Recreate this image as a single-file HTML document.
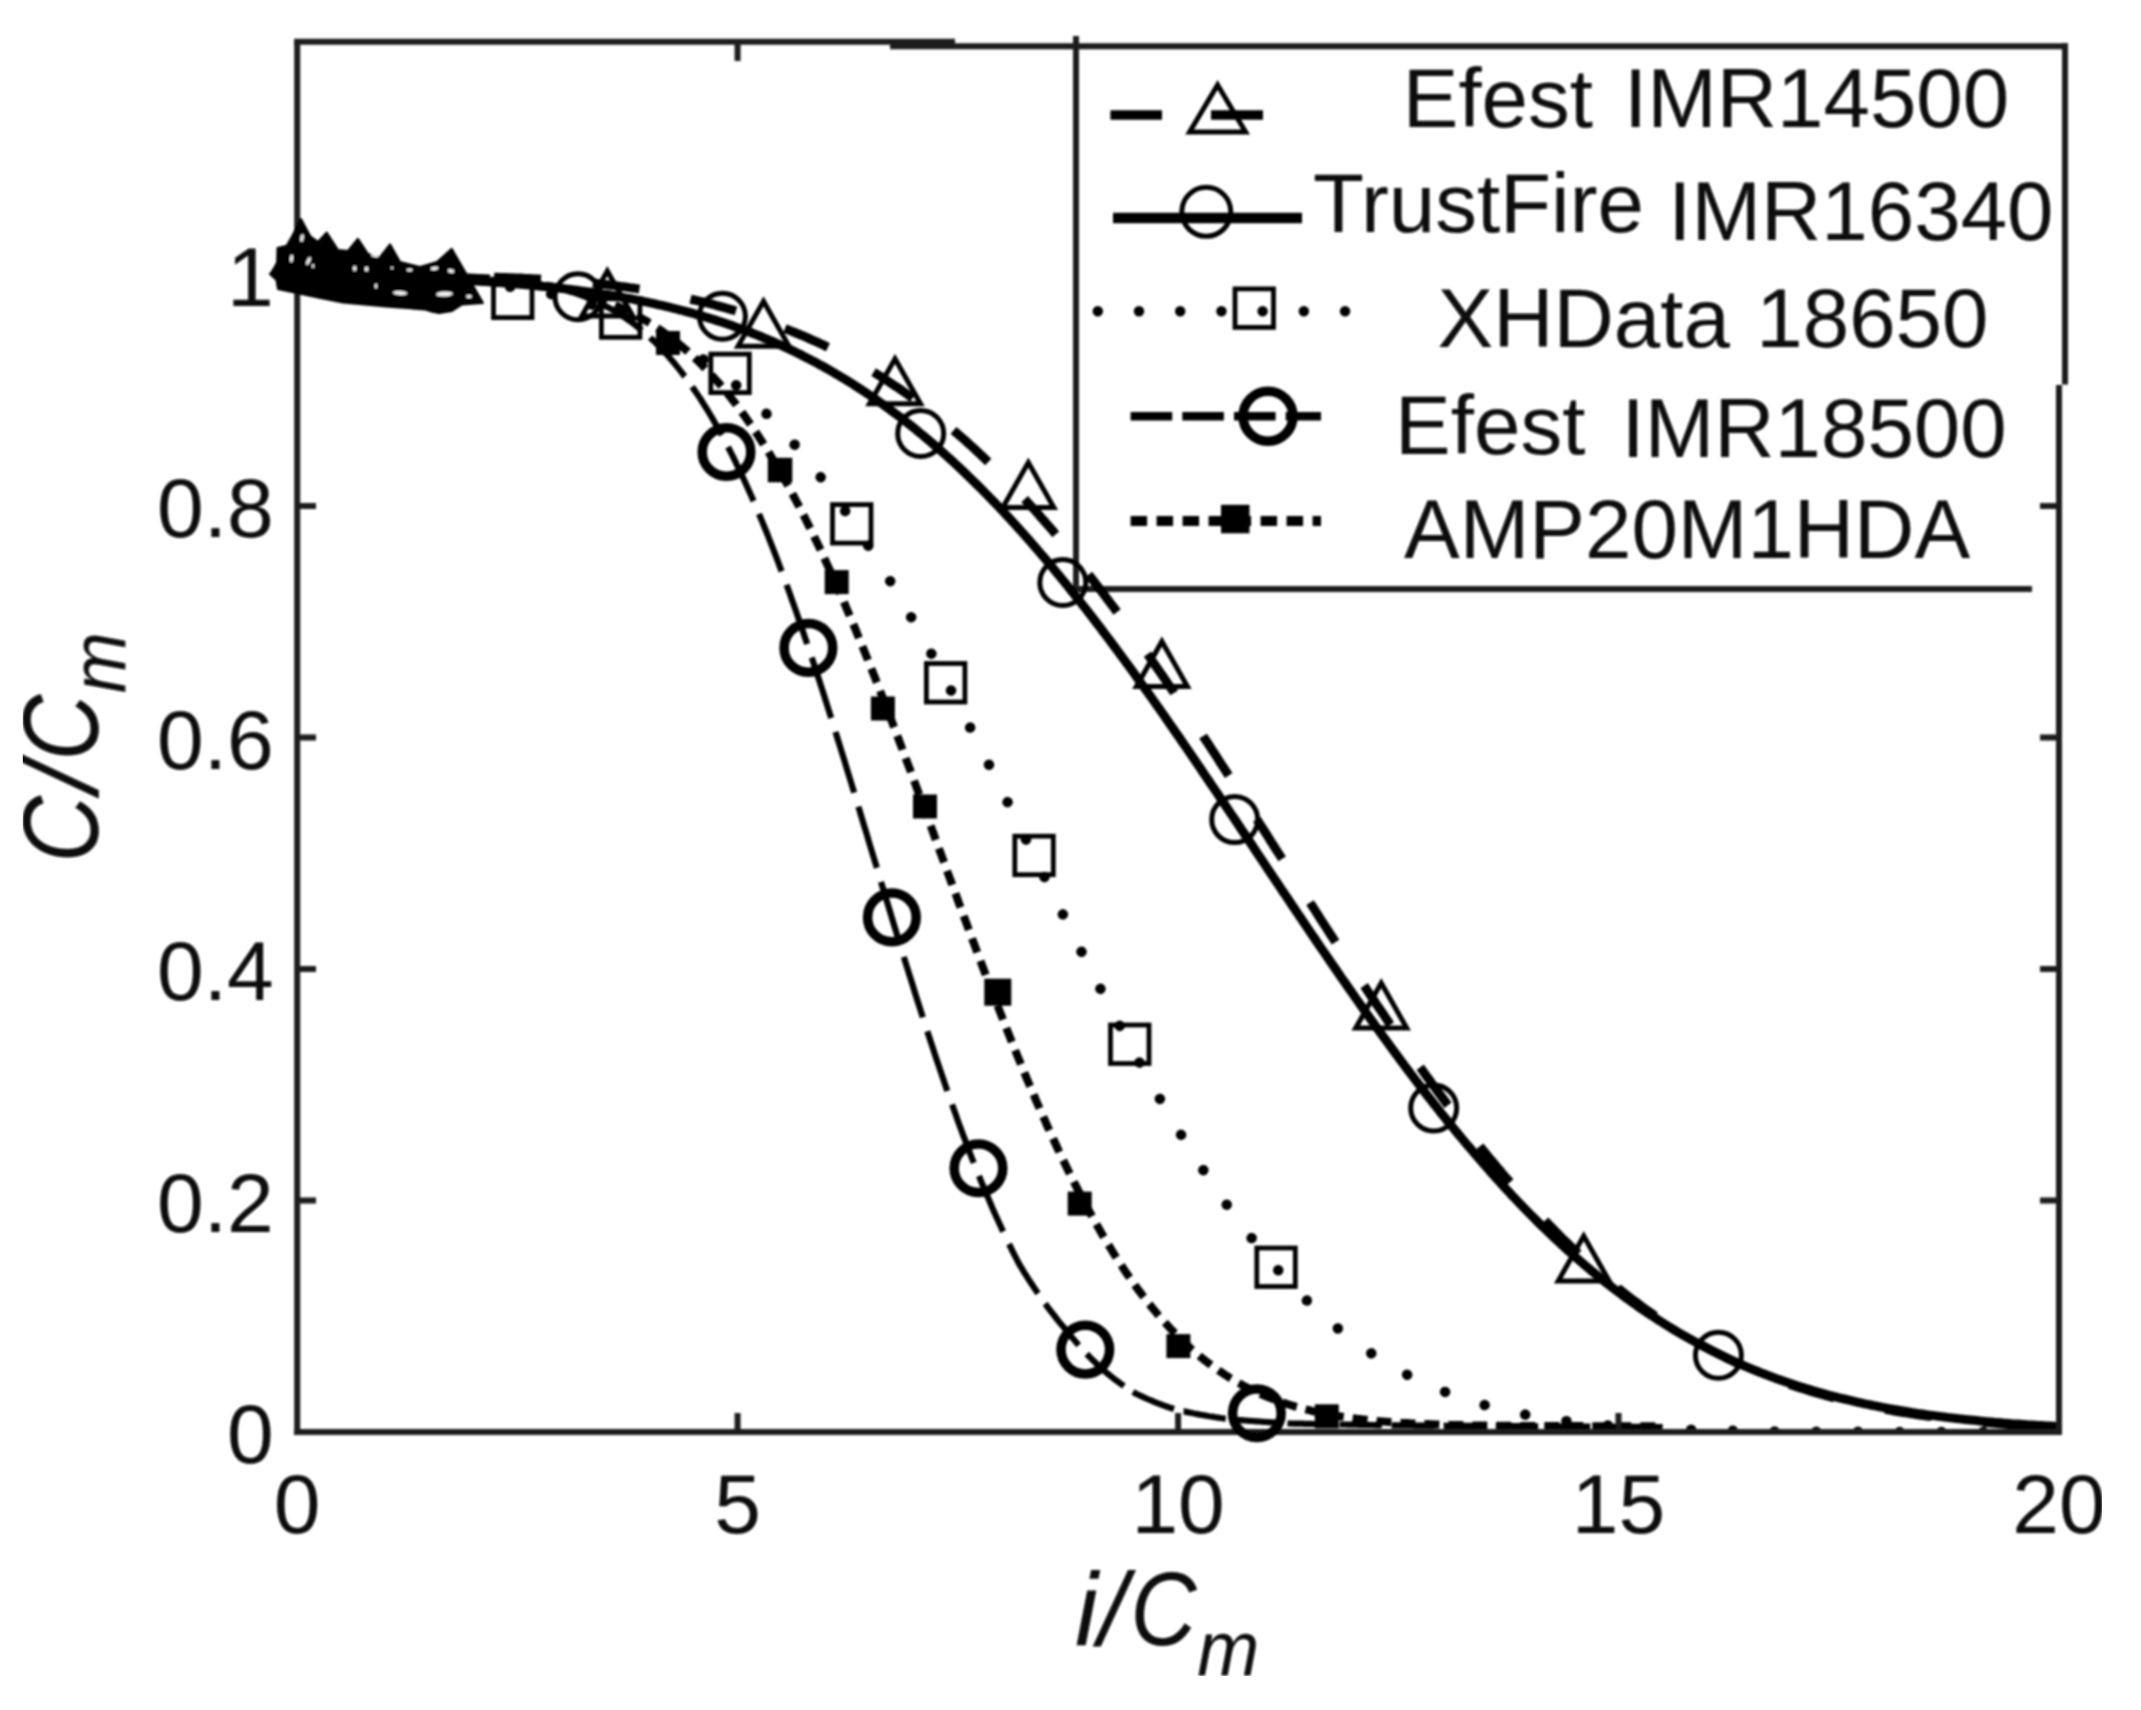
<!DOCTYPE html><html><head><meta charset="utf-8"><title>C/Cm vs i/Cm</title>
<style>html,body{margin:0;padding:0;background:#fff}svg{display:block}text{font-family:"Liberation Sans",Arial,Helvetica,sans-serif;fill:#0a0a0a}</style></head><body>
<svg width="2141" height="1710" viewBox="0 0 2141 1710">
<rect width="2141" height="1710" fill="#fff"/>
<defs><filter id="soft" x="0" y="0" width="2141" height="1710" filterUnits="userSpaceOnUse"><feGaussianBlur stdDeviation="1.1"/></filter></defs>
<g id="plot" filter="url(#soft)">
<g id="legend">
<g stroke="#1c1c1c" fill="none" stroke-width="6">
<path d="M890 46.3 H2068"/>
<path d="M2065 43.3 V384.5"/>
<path d="M1076 36 V592"/>
<path d="M1073 589 H2032"/>
</g>
<path d="M1110.4 115 H1162 M1211 115 H1263" stroke="#000" stroke-width="9.5" fill="none"/>
<path d="M1217.6 85.0 L1245.6 132.0 L1189.6 132.0 Z" fill="none" stroke="#000" stroke-width="5" stroke-linejoin="miter"/>
<path d="M1113 218 H1302" stroke="#000" stroke-width="10.5" fill="none"/>
<circle cx="1206.3" cy="211.8" r="24.5" fill="none" stroke="#000" stroke-width="5"/>
<path d="M1097.8 311.2 H1346" stroke="#000" stroke-width="10.5" stroke-linecap="round" stroke-dasharray="0.01 41.2" fill="none"/>
<rect x="1235.0" y="288.9" width="38.5" height="38.5" fill="none" stroke="#000" stroke-width="4.8"/>
<path d="M1130.6 416.2 H1321" stroke="#000" stroke-width="8.5" stroke-dasharray="41.6 10.1" fill="none"/>
<circle cx="1268.0" cy="416.2" r="25" fill="none" stroke="#000" stroke-width="9.5"/>
<path d="M1130.6 520.9 H1321" stroke="#000" stroke-width="10" stroke-dasharray="16.5 9.5" fill="none"/>
<rect x="1221.0" y="504.8" width="28.5" height="28.5" fill="#000"/>
<text font-size="83.5"><tspan x="1402.7" y="127.2">Efest</tspan> <tspan x="1624.0" y="127.3">IMR14500</tspan></text>
<text font-size="83.5"><tspan x="1313.0" y="231.8">TrustFire</tspan> <tspan x="1668.3" y="239.8">IMR16340</tspan></text>
<text font-size="83.5"><tspan x="1437.5" y="346.9">XHData</tspan> <tspan x="1756.3" y="347.0">18650</tspan></text>
<text font-size="83.5"><tspan x="1395.1" y="454.0">Efest</tspan> <tspan x="1621.5" y="456.9">IMR18500</tspan></text>
<text x="1404.0" y="557.7" font-size="83.5" text-anchor="start" >AMP20M1HDA</text>
</g>
<defs><clipPath id="axclip"><rect x="297.2" y="41.7" width="1761.8" height="1390.3"/></clipPath></defs>
<g id="curves" clip-path="url(#axclip)">
<path d="M297.2 275.6 L300.1 275.6 L303.1 275.6 L306.0 275.7 L309.0 275.7 L311.9 275.8 L314.8 275.8 L317.8 275.8 L320.7 275.9 L323.7 275.9 L326.6 276.0 L329.6 276.0 L332.5 276.1 L335.4 276.1 L338.4 276.2 L341.3 276.2 L344.3 276.3 L347.2 276.3 L350.1 276.4 L353.1 276.4 L356.0 276.5 L359.0 276.6 L361.9 276.6 L364.8 276.7 L367.8 276.8 L370.7 276.8 L373.7 276.9 L376.6 277.0 L379.6 277.1 L382.5 277.1 L385.4 277.2 L388.4 277.3 L391.3 277.4 L394.3 277.5 L397.2 277.6 L400.1 277.6 L403.1 277.7 L406.0 277.8 L409.0 277.9 L411.9 278.0 L414.8 278.1 L417.8 278.2 L420.7 278.4 L423.7 278.5 L426.6 278.6 L429.6 278.7 L432.5 278.8 L435.4 278.9 L438.4 279.1 L441.3 279.2 L444.3 279.3 L447.2 279.5 L450.1 279.6 L453.1 279.8 L456.0 279.9 L459.0 280.1 L461.9 280.2 L464.9 280.4 L467.8 280.5 L470.7 280.7 L473.7 280.9 L476.6 281.1 L479.6 281.2 L482.5 281.4 L485.4 281.6 L488.4 281.8 L491.3 282.0 L494.3 282.2 L497.2 282.4 L500.1 282.6 L503.1 282.8 L506.0 283.1 L509.0 283.3 L511.9 283.5 L514.9 283.8 L517.8 284.0 L520.7 284.3 L523.7 284.5 L526.6 284.8 L529.6 285.1 L532.5 285.3 L535.4 285.6 L538.4 285.9 L541.3 286.2 L544.3 286.5 L547.2 286.8 L550.1 287.1 L553.1 287.4 L556.0 287.8 L559.0 288.1 L561.9 288.4 L564.9 288.8 L567.8 289.1 L570.7 289.5 L573.7 289.9 L576.6 290.3 L579.6 290.7 L582.5 291.1 L585.4 291.5 L588.4 291.9 L591.3 292.3 L594.3 292.7 L597.2 293.2 L600.1 293.6 L603.1 294.1 L606.0 294.5 L609.0 295.0 L611.9 295.5 L614.9 296.0 L617.8 296.5 L620.7 297.0 L623.7 297.6 L626.6 298.1 L629.6 298.6 L632.5 299.2 L635.4 299.8 L638.4 300.4 L641.3 300.9 L644.3 301.6 L647.2 302.2 L650.1 302.8 L653.1 303.4 L656.0 304.1 L659.0 304.8 L661.9 305.4 L664.9 306.1 L667.8 306.8 L670.7 307.5 L673.7 308.3 L676.6 309.0 L679.6 309.8 L682.5 310.5 L685.4 311.3 L688.4 312.1 L691.3 312.9 L694.3 313.7 L697.2 314.6 L700.1 315.4 L703.1 316.3 L706.0 317.2 L709.0 318.1 L711.9 319.0 L714.9 319.9 L717.8 320.9 L720.7 321.8 L723.7 322.8 L726.6 323.8 L729.6 324.8 L732.5 325.8 L735.4 326.9 L738.4 327.9 L741.3 329.0 L744.3 330.1 L747.2 331.2 L750.2 332.3 L753.1 333.5 L756.0 334.6 L759.0 335.8 L761.9 337.0 L764.9 338.3 L767.8 339.5 L770.7 340.8 L773.7 342.0 L776.6 343.3 L779.6 344.6 L782.5 346.0 L785.4 347.3 L788.4 348.7 L791.3 350.1 L794.3 351.5 L797.2 353.0 L800.2 354.4 L803.1 355.9 L806.0 357.4 L809.0 358.9 L811.9 360.4 L814.9 362.0 L817.8 363.6 L820.7 365.2 L823.7 366.8 L826.6 368.5 L829.6 370.1 L832.5 371.8 L835.4 373.6 L838.4 375.3 L841.3 377.1 L844.3 378.8 L847.2 380.6 L850.2 382.5 L853.1 384.3 L856.0 386.2 L859.0 388.1 L861.9 390.0 L864.9 392.0 L867.8 393.9 L870.7 395.9 L873.7 398.0 L876.6 400.0 L879.6 402.1 L882.5 404.2 L885.4 406.3 L888.4 408.4 L891.3 410.6 L894.3 412.8 L897.2 415.0 L900.2 417.2 L903.1 419.5 L906.0 421.8 L909.0 424.1 L911.9 426.4 L914.9 428.8 L917.8 431.2 L920.7 433.6 L923.7 436.0 L926.6 438.5 L929.6 441.0 L932.5 443.5 L935.4 446.0 L938.4 448.6 L941.3 451.2 L944.3 453.8 L947.2 456.5 L950.2 459.1 L953.1 461.8 L956.0 464.5 L959.0 467.3 L961.9 470.1 L964.9 472.9 L967.8 475.7 L970.7 478.5 L973.7 481.4 L976.6 484.3 L979.6 487.2 L982.5 490.2 L985.4 493.1 L988.4 496.1 L991.3 499.2 L994.3 502.2 L997.2 505.3 L1000.2 508.4 L1003.1 511.5 L1006.0 514.7 L1009.0 517.8 L1011.9 521.0 L1014.9 524.2 L1017.8 527.5 L1020.7 530.8 L1023.7 534.0 L1026.6 537.4 L1029.6 540.7 L1032.5 544.1 L1035.5 547.5 L1038.4 550.9 L1041.3 554.3 L1044.3 557.8 L1047.2 561.2 L1050.2 564.7 L1053.1 568.3 L1056.0 571.8 L1059.0 575.4 L1061.9 579.0 L1064.9 582.6 L1067.8 586.2 L1070.7 589.9 L1073.7 593.6 L1076.6 597.3 L1079.6 601.0 L1082.5 604.7 L1085.5 608.5 L1088.4 612.3 L1091.3 616.1 L1094.3 619.9 L1097.2 623.7 L1100.2 627.6 L1103.1 631.5 L1106.0 635.4 L1109.0 639.3 L1111.9 643.2 L1114.9 647.2 L1117.8 651.1 L1120.7 655.1 L1123.7 659.1 L1126.6 663.1 L1129.6 667.2 L1132.5 671.2 L1135.5 675.3 L1138.4 679.4 L1141.3 683.5 L1144.3 687.6 L1147.2 691.7 L1150.2 695.8 L1153.1 700.0 L1156.0 704.2 L1159.0 708.3 L1161.9 712.5 L1164.9 716.7 L1167.8 721.0 L1170.7 725.2 L1173.7 729.4 L1176.6 733.7 L1179.6 737.9 L1182.5 742.2 L1185.5 746.5 L1188.4 750.8 L1191.3 755.1 L1194.3 759.4 L1197.2 763.7 L1200.2 768.0 L1203.1 772.4 L1206.0 776.7 L1209.0 781.1 L1211.9 785.4 L1214.9 789.8 L1217.8 794.1 L1220.7 798.5 L1223.7 802.9 L1226.6 807.3 L1229.6 811.7 L1232.5 816.0 L1235.5 820.4 L1238.4 824.8 L1241.3 829.2 L1244.3 833.6 L1247.2 838.0 L1250.2 842.4 L1253.1 846.8 L1256.0 851.2 L1259.0 855.7 L1261.9 860.1 L1264.9 864.5 L1267.8 868.9 L1270.7 873.3 L1273.7 877.7 L1276.6 882.1 L1279.6 886.5 L1282.5 890.9 L1285.5 895.2 L1288.4 899.6 L1291.3 904.0 L1294.3 908.4 L1297.2 912.8 L1300.2 917.1 L1303.1 921.5 L1306.0 925.8 L1309.0 930.2 L1311.9 934.5 L1314.9 938.9 L1317.8 943.2 L1320.7 947.5 L1323.7 951.8 L1326.6 956.1 L1329.6 960.4 L1332.5 964.7 L1335.5 968.9 L1338.4 973.2 L1341.3 977.5 L1344.3 981.7 L1347.2 985.9 L1350.2 990.1 L1353.1 994.3 L1356.0 998.5 L1359.0 1002.7 L1361.9 1006.9 L1364.9 1011.0 L1367.8 1015.2 L1370.8 1019.3 L1373.7 1023.4 L1376.6 1027.5 L1379.6 1031.6 L1382.5 1035.6 L1385.5 1039.7 L1388.4 1043.7 L1391.3 1047.7 L1394.3 1051.7 L1397.2 1055.7 L1400.2 1059.7 L1403.1 1063.6 L1406.0 1067.6 L1409.0 1071.5 L1411.9 1075.4 L1414.9 1079.3 L1417.8 1083.1 L1420.8 1087.0 L1423.7 1090.8 L1426.6 1094.6 L1429.6 1098.3 L1432.5 1102.1 L1435.5 1105.8 L1438.4 1109.6 L1441.3 1113.3 L1444.3 1116.9 L1447.2 1120.6 L1450.2 1124.2 L1453.1 1127.8 L1456.0 1131.4 L1459.0 1135.0 L1461.9 1138.5 L1464.9 1142.1 L1467.8 1145.6 L1470.8 1149.0 L1473.7 1152.5 L1476.6 1155.9 L1479.6 1159.3 L1482.5 1162.7 L1485.5 1166.1 L1488.4 1169.4 L1491.3 1172.7 L1494.3 1176.0 L1497.2 1179.3 L1500.2 1182.5 L1503.1 1185.8 L1506.0 1189.0 L1509.0 1192.1 L1511.9 1195.3 L1514.9 1198.4 L1517.8 1201.5 L1520.8 1204.6 L1523.7 1207.6 L1526.6 1210.6 L1529.6 1213.6 L1532.5 1216.6 L1535.5 1219.5 L1538.4 1222.5 L1541.3 1225.4 L1544.3 1228.2 L1547.2 1231.1 L1550.2 1233.9 L1553.1 1236.7 L1556.0 1239.5 L1559.0 1242.2 L1561.9 1244.9 L1564.9 1247.6 L1567.8 1250.3 L1570.8 1252.9 L1573.7 1255.5 L1576.6 1258.1 L1579.6 1260.7 L1582.5 1263.2 L1585.5 1265.7 L1588.4 1268.2 L1591.3 1270.7 L1594.3 1273.1 L1597.2 1275.5 L1600.2 1277.9 L1603.1 1280.3 L1606.0 1282.6 L1609.0 1284.9 L1611.9 1287.2 L1614.9 1289.5 L1617.8 1291.7 L1620.8 1293.9 L1623.7 1296.1 L1626.6 1298.3 L1629.6 1300.4 L1632.5 1302.5 L1635.5 1304.6 L1638.4 1306.7 L1641.3 1308.7 L1644.3 1310.7 L1647.2 1312.7 L1650.2 1314.7 L1653.1 1316.6 L1656.1 1318.6 L1659.0 1320.5 L1661.9 1322.3 L1664.9 1324.2 L1667.8 1326.0 L1670.8 1327.8 L1673.7 1329.6 L1676.6 1331.4 L1679.6 1333.1 L1682.5 1334.8 L1685.5 1336.5 L1688.4 1338.2 L1691.3 1339.8 L1694.3 1341.4 L1697.2 1343.1 L1700.2 1344.6 L1703.1 1346.2 L1706.1 1347.7 L1709.0 1349.2 L1711.9 1350.7 L1714.9 1352.2 L1717.8 1353.7 L1720.8 1355.1 L1723.7 1356.5 L1726.6 1357.9 L1729.6 1359.3 L1732.5 1360.6 L1735.5 1362.0 L1738.4 1363.3 L1741.3 1364.6 L1744.3 1365.9 L1747.2 1367.1 L1750.2 1368.4 L1753.1 1369.6 L1756.1 1370.8 L1759.0 1372.0 L1761.9 1373.1 L1764.9 1374.3 L1767.8 1375.4 L1770.8 1376.5 L1773.7 1377.6 L1776.6 1378.7 L1779.6 1379.7 L1782.5 1380.8 L1785.5 1381.8 L1788.4 1382.8 L1791.3 1383.8 L1794.3 1384.8 L1797.2 1385.7 L1800.2 1386.7 L1803.1 1387.6 L1806.1 1388.5 L1809.0 1389.4 L1811.9 1390.3 L1814.9 1391.2 L1817.8 1392.0 L1820.8 1392.8 L1823.7 1393.7 L1826.6 1394.5 L1829.6 1395.3 L1832.5 1396.0 L1835.5 1396.8 L1838.4 1397.6 L1841.3 1398.3 L1844.3 1399.0 L1847.2 1399.7 L1850.2 1400.4 L1853.1 1401.1 L1856.1 1401.8 L1859.0 1402.5 L1861.9 1403.1 L1864.9 1403.8 L1867.8 1404.4 L1870.8 1405.0 L1873.7 1405.6 L1876.6 1406.2 L1879.6 1406.8 L1882.5 1407.3 L1885.5 1407.9 L1888.4 1408.5 L1891.3 1409.0 L1894.3 1409.5 L1897.2 1410.0 L1900.2 1410.5 L1903.1 1411.0 L1906.1 1411.5 L1909.0 1412.0 L1911.9 1412.5 L1914.9 1412.9 L1917.8 1413.4 L1920.8 1413.8 L1923.7 1414.2 L1926.6 1414.7 L1929.6 1415.1 L1932.5 1415.5 L1935.5 1415.9 L1938.4 1416.3 L1941.4 1416.6 L1944.3 1417.0 L1947.2 1417.4 L1950.2 1417.7 L1953.1 1418.1 L1956.1 1418.4 L1959.0 1418.8 L1961.9 1419.1 L1964.9 1419.4 L1967.8 1419.7 L1970.8 1420.0 L1973.7 1420.3 L1976.6 1420.6 L1979.6 1420.9 L1982.5 1421.2 L1985.5 1421.5 L1988.4 1421.7 L1991.4 1422.0 L1994.3 1422.3 L1997.2 1422.5 L2000.2 1422.7 L2003.1 1423.0 L2006.1 1423.2 L2009.0 1423.4 L2011.9 1423.7 L2014.9 1423.9 L2017.8 1424.1 L2020.8 1424.3 L2023.7 1424.5 L2026.6 1424.7 L2029.6 1424.9 L2032.5 1425.1 L2035.5 1425.3 L2038.4 1425.5 L2041.4 1425.6 L2044.3 1425.8 L2047.2 1426.0 L2050.2 1426.1 L2053.1 1426.3 L2056.1 1426.5 L2059.0 1426.6" fill="none" stroke="#000" stroke-width="9"/>
<path d="M297.2 274.8 L300.1 274.8 L303.1 274.8 L306.0 274.8 L309.0 274.8 L311.9 274.8 L314.8 274.8 L317.8 274.9 L320.7 274.9 L323.7 274.9 L326.6 274.9 L329.6 274.9 L332.5 274.9 L335.4 274.9 L338.4 275.0 L341.3 275.0 L344.3 275.0 L347.2 275.0 L350.1 275.0 L353.1 275.0 L356.0 275.1 L359.0 275.1 L361.9 275.1 L364.8 275.1 L367.8 275.2 L370.7 275.2 L373.7 275.2 L376.6 275.2 L379.6 275.3 L382.5 275.3 L385.4 275.3 L388.4 275.3 L391.3 275.4 L394.3 275.4 L397.2 275.4 L400.1 275.5 L403.1 275.5 L406.0 275.5 L409.0 275.6 L411.9 275.6 L414.8 275.6 L417.8 275.7 L420.7 275.7 L423.7 275.8 L426.6 275.8 L429.6 275.8 L432.5 275.9 L435.4 275.9 L438.4 276.0 L441.3 276.0 L444.3 276.1 L447.2 276.1 L450.1 276.2 L453.1 276.2 L456.0 276.3 L459.0 276.4 L461.9 276.4 L464.9 276.5 L467.8 276.6 L470.7 276.6 L473.7 276.7 L476.6 276.8 L479.6 276.8 L482.5 276.9 L485.4 277.0 L488.4 277.1 L491.3 277.1 L494.3 277.2 L497.2 277.3 L500.1 277.4 L503.1 277.5 L506.0 277.6 L509.0 277.7 L511.9 277.8 L514.9 277.9 L517.8 278.0 L520.7 278.1 L523.7 278.3 L526.6 278.4 L529.6 278.6 L532.5 278.7 L535.4 278.9 L538.4 279.0 L541.3 279.2 L544.3 279.4 L547.2 279.5 L550.1 279.7 L553.1 279.9 L556.0 280.1 L559.0 280.3 L561.9 280.5 L564.9 280.7 L567.8 281.0 L570.7 281.2 L573.7 281.4 L576.6 281.7 L579.6 281.9 L582.5 282.2 L585.4 282.4 L588.4 282.7 L591.3 283.0 L594.3 283.3 L597.2 283.6 L600.1 283.9 L603.1 284.2 L606.0 284.6 L609.0 284.9 L611.9 285.2 L614.9 285.6 L617.8 286.0 L620.7 286.4 L623.7 286.7 L626.6 287.1 L629.6 287.6 L632.5 288.0 L635.4 288.4 L638.4 288.9 L641.3 289.3 L644.3 289.8 L647.2 290.3 L650.1 290.8 L653.1 291.3 L656.0 291.8 L659.0 292.4 L661.9 292.9 L664.9 293.5 L667.8 294.1 L670.7 294.7 L673.7 295.3 L676.6 295.9 L679.6 296.6 L682.5 297.3 L685.4 297.9 L688.4 298.6 L691.3 299.3 L694.3 300.0 L697.2 300.6 L700.1 301.3 L703.1 302.0 L706.0 302.7 L709.0 303.5 L711.9 304.2 L714.9 305.0 L717.8 305.8 L720.7 306.6 L723.7 307.4 L726.6 308.2 L729.6 309.1 L732.5 309.9 L735.4 310.8 L738.4 311.7 L741.3 312.7 L744.3 313.6 L747.2 314.6 L750.2 315.5 L753.1 316.5 L756.0 317.6 L759.0 318.6 L761.9 319.7 L764.9 320.7 L767.8 321.8 L770.7 323.0 L773.7 324.1 L776.6 325.3 L779.6 326.5 L782.5 327.6 L785.4 328.8 L788.4 329.9 L791.3 331.1 L794.3 332.3 L797.2 333.5 L800.2 334.7 L803.1 335.9 L806.0 337.2 L809.0 338.5 L811.9 339.8 L814.9 341.1 L817.8 342.4 L820.7 343.8 L823.7 345.2 L826.6 346.6 L829.6 348.0 L832.5 349.5 L835.4 350.9 L838.4 352.4 L841.3 354.0 L844.3 355.5 L847.2 357.1 L850.2 358.7 L853.1 360.3 L856.0 361.9 L859.0 363.6 L861.9 365.2 L864.9 366.9 L867.8 368.7 L870.7 370.4 L873.7 372.2 L876.6 374.0 L879.6 375.8 L882.5 377.7 L885.4 379.6 L888.4 381.5 L891.3 383.4 L894.3 385.4 L897.2 387.3 L900.2 389.3 L903.1 391.4 L906.0 393.4 L909.0 395.5 L911.9 397.6 L914.9 399.8 L917.8 401.9 L920.7 404.1 L923.7 406.3 L926.6 408.6 L929.6 410.9 L932.5 413.2 L935.4 415.5 L938.4 417.8 L941.3 420.2 L944.3 422.6 L947.2 425.1 L950.2 427.5 L953.1 430.0 L956.0 432.5 L959.0 435.1 L961.9 437.6 L964.9 440.2 L967.8 442.9 L970.7 445.5 L973.7 448.2 L976.6 450.9 L979.6 453.7 L982.5 456.4 L985.4 459.2 L988.4 462.1 L991.3 464.9 L994.3 467.8 L997.2 470.7 L1000.2 473.6 L1003.1 476.6 L1006.0 479.6 L1009.0 482.6 L1011.9 485.7 L1014.9 488.7 L1017.8 491.8 L1020.7 495.0 L1023.7 498.1 L1026.6 501.3 L1029.6 504.5 L1032.5 507.8 L1035.5 511.0 L1038.4 514.3 L1041.3 517.7 L1044.3 521.0 L1047.2 524.4 L1050.2 527.8 L1053.1 531.2 L1056.0 534.7 L1059.0 538.2 L1061.9 541.7 L1064.9 545.2 L1067.8 548.8 L1070.7 552.3 L1073.7 555.9 L1076.6 559.6 L1079.6 563.2 L1082.5 566.9 L1085.5 570.6 L1088.4 574.4 L1091.3 578.1 L1094.3 581.9 L1097.2 585.7 L1100.2 589.5 L1103.1 593.4 L1106.0 597.3 L1109.0 601.2 L1111.9 605.1 L1114.9 609.0 L1117.8 613.0 L1120.7 617.0 L1123.7 621.0 L1126.6 625.0 L1129.6 629.1 L1132.5 633.2 L1135.5 637.2 L1138.4 641.4 L1141.3 645.5 L1144.3 649.6 L1147.2 653.8 L1150.2 658.0 L1153.1 662.2 L1156.0 666.4 L1159.0 670.7 L1161.9 674.9 L1164.9 679.2 L1167.8 683.5 L1170.7 687.8 L1173.7 692.1 L1176.6 696.5 L1179.6 700.8 L1182.5 705.2 L1185.5 709.6 L1188.4 714.0 L1191.3 718.4 L1194.3 722.8 L1197.2 727.2 L1200.2 731.7 L1203.1 736.2 L1206.0 740.6 L1209.0 745.1 L1211.9 749.6 L1214.9 754.1 L1217.8 758.6 L1220.7 763.2 L1223.7 767.7 L1226.6 772.2 L1229.6 776.8 L1232.5 781.3 L1235.5 785.9 L1238.4 790.5 L1241.3 795.0 L1244.3 799.6 L1247.2 804.2 L1250.2 808.8 L1253.1 813.4 L1256.0 818.0 L1259.0 822.6 L1261.9 827.2 L1264.9 831.8 L1267.8 836.4 L1270.7 841.1 L1273.7 845.7 L1276.6 850.3 L1279.6 854.9 L1282.5 859.5 L1285.5 864.1 L1288.4 868.7 L1291.3 873.4 L1294.3 878.0 L1297.2 882.6 L1300.2 887.2 L1303.1 891.8 L1306.0 896.4 L1309.0 901.0 L1311.9 905.6 L1314.9 910.1 L1317.8 914.7 L1320.7 919.3 L1323.7 923.9 L1326.6 928.4 L1329.6 933.0 L1332.5 937.5 L1335.5 942.1 L1338.4 946.6 L1341.3 951.1 L1344.3 955.6 L1347.2 960.1 L1350.2 964.6 L1353.1 969.1 L1356.0 973.5 L1359.0 978.0 L1361.9 982.4 L1364.9 986.8 L1367.8 991.3 L1370.8 995.7 L1373.7 1000.1 L1376.6 1004.4 L1379.6 1008.8 L1382.5 1013.1 L1385.5 1017.5 L1388.4 1021.8 L1391.3 1026.1 L1394.3 1030.4 L1397.2 1034.6 L1400.2 1038.9 L1403.1 1043.1 L1406.0 1047.3 L1409.0 1051.5 L1411.9 1055.7 L1414.9 1059.8 L1417.8 1064.0 L1420.8 1068.1 L1423.7 1072.2 L1426.6 1076.3 L1429.6 1080.3 L1432.5 1084.3 L1435.5 1088.4 L1438.4 1092.4 L1441.3 1096.3 L1444.3 1100.3 L1447.2 1104.2 L1450.2 1108.1 L1453.1 1112.0 L1456.0 1115.9 L1459.0 1119.7 L1461.9 1123.5 L1464.9 1127.3 L1467.8 1131.1 L1470.8 1134.8 L1473.7 1138.5 L1476.6 1142.2 L1479.6 1145.9 L1482.5 1149.5 L1485.5 1153.1 L1488.4 1156.7 L1491.3 1160.3 L1494.3 1163.8 L1497.2 1167.3 L1500.2 1170.8 L1503.1 1174.3 L1506.0 1177.7 L1509.0 1181.1 L1511.9 1184.5 L1514.9 1187.9 L1517.8 1191.2 L1520.8 1194.5 L1523.7 1197.8 L1526.6 1201.0 L1529.6 1204.3 L1532.5 1207.5 L1535.5 1210.6 L1538.4 1213.8 L1541.3 1216.9 L1544.3 1220.0 L1547.2 1223.0 L1550.2 1226.0 L1553.1 1229.0 L1556.0 1232.0 L1559.0 1235.0 L1561.9 1237.9 L1564.9 1240.8 L1567.8 1243.6 L1570.8 1246.5 L1573.7 1249.3 L1576.6 1252.0 L1579.6 1254.8 L1582.5 1257.5 L1585.5 1260.2 L1588.4 1262.9 L1591.3 1265.5 L1594.3 1268.1 L1597.2 1270.7 L1600.2 1273.2 L1603.1 1275.8 L1606.0 1278.3 L1609.0 1280.7 L1611.9 1283.2 L1614.9 1285.6 L1617.8 1288.0 L1620.8 1290.3 L1623.7 1292.7 L1626.6 1295.0 L1629.6 1297.3 L1632.5 1299.5 L1635.5 1301.7 L1638.4 1303.9 L1641.3 1306.1 L1644.3 1308.3 L1647.2 1310.4 L1650.2 1312.5 L1653.1 1314.5 L1656.1 1316.6 L1659.0 1318.6 L1661.9 1320.6 L1664.9 1322.5 L1667.8 1324.5 L1670.8 1326.4 L1673.7 1328.3 L1676.6 1330.1 L1679.6 1332.0 L1682.5 1333.8 L1685.5 1335.6 L1688.4 1337.3 L1691.3 1339.1 L1694.3 1340.8 L1697.2 1342.5 L1700.2 1344.1 L1703.1 1345.8 L1706.1 1347.4 L1709.0 1349.0 L1711.9 1350.6 L1714.9 1352.1 L1717.8 1353.6 L1720.8 1355.1 L1723.7 1356.6 L1726.6 1358.1 L1729.6 1359.5 L1732.5 1360.9 L1735.5 1362.3 L1738.4 1363.7 L1741.3 1365.0 L1744.3 1366.4 L1747.2 1367.7 L1750.2 1369.0 L1753.1 1370.2 L1756.1 1371.5 L1759.0 1372.7 L1761.9 1373.9 L1764.9 1375.1 L1767.8 1376.3 L1770.8 1377.4 L1773.7 1378.5 L1776.6 1379.7 L1779.6 1380.7 L1782.5 1381.8 L1785.5 1382.9 L1788.4 1383.9 L1791.3 1384.9 L1794.3 1385.9 L1797.2 1386.9 L1800.2 1387.9 L1803.1 1388.8 L1806.1 1389.8 L1809.0 1390.7 L1811.9 1391.6 L1814.9 1392.5 L1817.8 1393.3 L1820.8 1394.2 L1823.7 1395.0 L1826.6 1395.8 L1829.6 1396.7 L1832.5 1397.4 L1835.5 1398.2 L1838.4 1399.0 L1841.3 1399.7 L1844.3 1400.5 L1847.2 1401.2 L1850.2 1401.9 L1853.1 1402.6 L1856.1 1403.3 L1859.0 1403.9 L1861.9 1404.6 L1864.9 1405.2 L1867.8 1405.8 L1870.8 1406.5 L1873.7 1407.1 L1876.6 1407.7 L1879.6 1408.2 L1882.5 1408.8 L1885.5 1409.4 L1888.4 1409.9 L1891.3 1410.4 L1894.3 1411.0 L1897.2 1411.5 L1900.2 1412.0 L1903.1 1412.5 L1906.1 1412.9 L1909.0 1413.4 L1911.9 1413.9 L1914.9 1414.3 L1917.8 1414.8 L1920.8 1415.2 L1923.7 1415.6 L1926.6 1416.0 L1929.6 1416.4 L1932.5 1416.8 L1935.5 1417.2 L1938.4 1417.6 L1941.4 1418.0 L1944.3 1418.3 L1947.2 1418.7 L1950.2 1419.0 L1953.1 1419.3 L1956.1 1419.7 L1959.0 1420.0 L1961.9 1420.3 L1964.9 1420.6 L1967.8 1420.9 L1970.8 1421.2 L1973.7 1421.5 L1976.6 1421.8 L1979.6 1422.1 L1982.5 1422.3 L1985.5 1422.6 L1988.4 1422.8 L1991.4 1423.1 L1994.3 1423.3 L1997.2 1423.6 L2000.2 1423.8 L2003.1 1424.0 L2006.1 1424.2 L2009.0 1424.5 L2011.9 1424.7 L2014.9 1424.9 L2017.8 1425.1 L2020.8 1425.3 L2023.7 1425.4 L2026.6 1425.6 L2029.6 1425.8 L2032.5 1426.0 L2035.5 1426.2 L2038.4 1426.3 L2041.4 1426.5 L2044.3 1426.6 L2047.2 1426.8 L2050.2 1427.0 L2053.1 1427.1 L2056.1 1427.2 L2059.0 1427.4" fill="none" stroke="#000" stroke-width="9" stroke-dasharray="47 52" stroke-dashoffset="-97.9" stroke-linecap="butt" />
<path d="M297.2 275.2 L300.1 275.2 L303.1 275.3 L306.0 275.3 L309.0 275.3 L311.9 275.4 L314.8 275.4 L317.8 275.4 L320.7 275.5 L323.7 275.5 L326.6 275.6 L329.6 275.6 L332.5 275.7 L335.4 275.7 L338.4 275.8 L341.3 275.8 L344.3 275.9 L347.2 276.0 L350.1 276.0 L353.1 276.1 L356.0 276.2 L359.0 276.2 L361.9 276.3 L364.8 276.4 L367.8 276.5 L370.7 276.6 L373.7 276.6 L376.6 276.7 L379.6 276.8 L382.5 276.9 L385.4 277.0 L388.4 277.1 L391.3 277.2 L394.3 277.3 L397.2 277.5 L400.1 277.6 L403.1 277.7 L406.0 277.8 L409.0 278.0 L411.9 278.1 L414.8 278.3 L417.8 278.4 L420.7 278.6 L423.7 278.7 L426.6 278.9 L429.6 279.1 L432.5 279.2 L435.4 279.4 L438.4 279.6 L441.3 279.8 L444.3 280.0 L447.2 280.2 L450.1 280.4 L453.1 280.7 L456.0 280.9 L459.0 281.1 L461.9 281.4 L464.9 281.7 L467.8 281.9 L470.7 282.2 L473.7 282.5 L476.6 282.8 L479.6 283.1 L482.5 283.4 L485.4 283.7 L488.4 284.0 L491.3 284.4 L494.3 284.7 L497.2 285.1 L500.1 285.5 L503.1 285.9 L506.0 286.3 L509.0 286.7 L511.9 287.1 L514.9 287.5 L517.8 288.0 L520.7 288.4 L523.7 288.9 L526.6 289.4 L529.6 289.9 L532.5 290.4 L535.4 291.0 L538.4 291.5 L541.3 292.1 L544.3 292.7 L547.2 293.3 L550.1 293.9 L553.1 294.5 L556.0 295.2 L559.0 295.8 L561.9 296.5 L564.9 297.2 L567.8 298.0 L570.7 298.7 L573.7 299.5 L576.6 300.3 L579.6 301.1 L582.5 301.9 L585.4 302.7 L588.4 303.6 L591.3 304.5 L594.3 305.4 L597.2 306.3 L600.1 307.3 L603.1 308.3 L606.0 309.3 L609.0 310.3 L611.9 311.4 L614.9 312.5 L617.8 313.6 L620.7 314.7 L623.7 315.9 L626.6 317.1 L629.6 318.3 L632.5 319.6 L635.4 320.8 L638.4 322.2 L641.3 323.5 L644.3 324.9 L647.2 326.3 L650.1 327.7 L653.1 329.2 L656.0 330.6 L659.0 332.2 L661.9 333.7 L664.9 335.3 L667.8 337.0 L670.7 338.6 L673.7 340.3 L676.6 342.0 L679.6 343.8 L682.5 345.6 L685.4 347.4 L688.4 349.3 L691.3 351.2 L694.3 353.2 L697.2 355.2 L700.1 357.2 L703.1 359.3 L706.0 361.4 L709.0 363.5 L711.9 365.7 L714.9 367.9 L717.8 370.2 L720.7 372.5 L723.7 374.8 L726.6 377.2 L729.6 379.6 L732.5 382.1 L735.4 384.6 L738.4 387.2 L741.3 389.8 L744.3 392.4 L747.2 395.1 L750.2 397.9 L753.1 400.7 L756.0 403.5 L759.0 406.3 L761.9 409.3 L764.9 412.2 L767.8 415.2 L770.7 418.3 L773.7 421.4 L776.6 424.5 L779.6 427.7 L782.5 430.9 L785.4 434.2 L788.4 437.5 L791.3 440.9 L794.3 444.3 L797.2 447.8 L800.2 451.3 L803.1 454.9 L806.0 458.5 L809.0 462.2 L811.9 465.9 L814.9 469.6 L817.8 473.4 L820.7 477.3 L823.7 481.1 L826.6 485.1 L829.6 489.1 L832.5 493.1 L835.4 497.2 L838.4 501.3 L841.3 505.5 L844.3 509.7 L847.2 514.0 L850.2 518.3 L853.1 522.6 L856.0 527.0 L859.0 531.4 L861.9 535.9 L864.9 540.5 L867.8 545.0 L870.7 549.7 L873.7 554.3 L876.6 559.0 L879.6 563.8 L882.5 568.5 L885.4 573.4 L888.4 578.2 L891.3 583.1 L894.3 588.1 L897.2 593.1 L900.2 598.1 L903.1 603.2 L906.0 608.3 L909.0 613.4 L911.9 618.6 L914.9 623.8 L917.8 629.0 L920.7 634.3 L923.7 639.6 L926.6 645.0 L929.6 650.4 L932.5 655.8 L935.4 661.2 L938.4 666.7 L941.3 672.2 L944.3 677.7 L947.2 683.3 L950.2 688.9 L953.1 694.5 L956.0 700.1 L959.0 705.8 L961.9 711.5 L964.9 717.2 L967.8 722.9 L970.7 728.7 L973.7 734.4 L976.6 740.2 L979.6 746.0 L982.5 751.9 L985.4 757.7 L988.4 763.6 L991.3 769.5 L994.3 775.4 L997.2 781.3 L1000.2 787.2 L1003.1 793.1 L1006.0 799.0 L1009.0 805.0 L1011.9 810.9 L1014.9 816.9 L1017.8 822.9 L1020.7 828.8 L1023.7 834.8 L1026.6 840.8 L1029.6 846.8 L1032.5 852.8 L1035.5 858.7 L1038.4 864.7 L1041.3 870.7 L1044.3 876.7 L1047.2 882.7 L1050.2 888.6 L1053.1 894.6 L1056.0 900.5 L1059.0 906.5 L1061.9 912.4 L1064.9 918.4 L1067.8 924.3 L1070.7 930.2 L1073.7 936.1 L1076.6 941.9 L1079.6 947.8 L1082.5 953.7 L1085.5 959.5 L1088.4 965.3 L1091.3 971.1 L1094.3 976.9 L1097.2 982.6 L1100.2 988.4 L1103.1 994.1 L1106.0 999.8 L1109.0 1005.4 L1111.9 1011.1 L1114.9 1016.7 L1117.8 1022.3 L1120.7 1027.9 L1123.7 1033.4 L1126.6 1038.9 L1129.6 1044.4 L1132.5 1049.8 L1135.5 1055.2 L1138.4 1060.6 L1141.3 1066.0 L1144.3 1071.3 L1147.2 1076.6 L1150.2 1081.8 L1153.1 1087.1 L1156.0 1092.2 L1159.0 1097.4 L1161.9 1102.5 L1164.9 1107.6 L1167.8 1112.6 L1170.7 1117.6 L1173.7 1122.5 L1176.6 1127.5 L1179.6 1132.3 L1182.5 1137.2 L1185.5 1142.0 L1188.4 1146.7 L1191.3 1151.4 L1194.3 1156.1 L1197.2 1160.7 L1200.2 1165.3 L1203.1 1169.8 L1206.0 1174.3 L1209.0 1178.8 L1211.9 1183.2 L1214.9 1187.5 L1217.8 1191.8 L1220.7 1196.1 L1223.7 1200.3 L1226.6 1204.5 L1229.6 1208.6 L1232.5 1212.7 L1235.5 1216.8 L1238.4 1220.8 L1241.3 1224.7 L1244.3 1228.6 L1247.2 1232.5 L1250.2 1236.3 L1253.1 1240.0 L1256.0 1243.7 L1259.0 1247.4 L1261.9 1251.0 L1264.9 1254.6 L1267.8 1258.1 L1270.7 1261.6 L1273.7 1265.0 L1276.6 1268.4 L1279.6 1271.7 L1282.5 1275.0 L1285.5 1278.3 L1288.4 1281.5 L1291.3 1284.6 L1294.3 1287.7 L1297.2 1290.8 L1300.2 1293.8 L1303.1 1296.8 L1306.0 1299.7 L1309.0 1302.6 L1311.9 1305.4 L1314.9 1308.2 L1317.8 1310.9 L1320.7 1313.6 L1323.7 1316.3 L1326.6 1318.9 L1329.6 1321.4 L1332.5 1324.0 L1335.5 1326.4 L1338.4 1328.9 L1341.3 1331.3 L1344.3 1333.6 L1347.2 1335.9 L1350.2 1338.2 L1353.1 1340.4 L1356.0 1342.6 L1359.0 1344.8 L1361.9 1346.9 L1364.9 1349.0 L1367.8 1351.0 L1370.8 1353.0 L1373.7 1355.0 L1376.6 1356.9 L1379.6 1358.8 L1382.5 1360.6 L1385.5 1362.4 L1388.4 1364.2 L1391.3 1365.9 L1394.3 1367.6 L1397.2 1369.3 L1400.2 1370.9 L1403.1 1372.5 L1406.0 1374.1 L1409.0 1375.6 L1411.9 1377.1 L1414.9 1378.6 L1417.8 1380.0 L1420.8 1381.4 L1423.7 1382.8 L1426.6 1384.1 L1429.6 1385.4 L1432.5 1386.7 L1435.5 1388.0 L1438.4 1389.2 L1441.3 1390.4 L1444.3 1391.6 L1447.2 1392.7 L1450.2 1393.8 L1453.1 1394.9 L1456.0 1396.0 L1459.0 1397.0 L1461.9 1398.0 L1464.9 1399.0 L1467.8 1400.0 L1470.8 1400.9 L1473.7 1401.9 L1476.6 1402.8 L1479.6 1403.6 L1482.5 1404.5 L1485.5 1405.3 L1488.4 1406.1 L1491.3 1406.9 L1494.3 1407.7 L1497.2 1408.4 L1500.2 1409.1 L1503.1 1409.9 L1506.0 1410.5 L1509.0 1411.2 L1511.9 1411.9 L1514.9 1412.5 L1517.8 1413.1 L1520.8 1413.7 L1523.7 1414.3 L1526.6 1414.9 L1529.6 1415.4 L1532.5 1416.0 L1535.5 1416.5 L1538.4 1417.0 L1541.3 1417.5 L1544.3 1418.0 L1547.2 1418.4 L1550.2 1418.9 L1553.1 1419.3 L1556.0 1419.8 L1559.0 1420.2 L1561.9 1420.6 L1564.9 1421.0 L1567.8 1421.3 L1570.8 1421.7 L1573.7 1422.1 L1576.6 1422.4 L1579.6 1422.7 L1582.5 1423.1 L1585.5 1423.4 L1588.4 1423.7 L1591.3 1424.0 L1594.3 1424.3 L1597.2 1424.5 L1600.2 1424.8 L1603.1 1425.1 L1606.0 1425.3 L1609.0 1425.6 L1611.9 1425.8 L1614.9 1426.0 L1617.8 1426.2 L1620.8 1426.4 L1623.7 1426.7 L1626.6 1426.9 L1629.6 1427.0 L1632.5 1427.2 L1635.5 1427.4 L1638.4 1427.6 L1641.3 1427.8 L1644.3 1427.9 L1647.2 1428.1 L1650.2 1428.2 L1653.1 1428.4 L1656.1 1428.5 L1659.0 1428.6 L1661.9 1428.8 L1664.9 1428.9 L1667.8 1429.0 L1670.8 1429.1 L1673.7 1429.3 L1676.6 1429.4 L1679.6 1429.5 L1682.5 1429.6 L1685.5 1429.7 L1688.4 1429.8 L1691.3 1429.8 L1694.3 1429.9 L1697.2 1430.0 L1700.2 1430.1 L1703.1 1430.2 L1706.1 1430.3 L1709.0 1430.3 L1711.9 1430.4 L1714.9 1430.5 L1717.8 1430.5 L1720.8 1430.6 L1723.7 1430.6 L1726.6 1430.7 L1729.6 1430.8 L1732.5 1430.8 L1735.5 1430.9 L1738.4 1430.9 L1741.3 1431.0 L1744.3 1431.0 L1747.2 1431.0 L1750.2 1431.1 L1753.1 1431.1 L1756.1 1431.2 L1759.0 1431.2 L1761.9 1431.2 L1764.9 1431.3 L1767.8 1431.3 L1770.8 1431.3 L1773.7 1431.4 L1776.6 1431.4 L1779.6 1431.4 L1782.5 1431.4 L1785.5 1431.5 L1788.4 1431.5 L1791.3 1431.5 L1794.3 1431.5 L1797.2 1431.6 L1800.2 1431.6 L1803.1 1431.6 L1806.1 1431.6 L1809.0 1431.6 L1811.9 1431.7 L1814.9 1431.7 L1817.8 1431.7 L1820.8 1431.7 L1823.7 1431.7 L1826.6 1431.7 L1829.6 1431.7 L1832.5 1431.8 L1835.5 1431.8 L1838.4 1431.8 L1841.3 1431.8 L1844.3 1431.8 L1847.2 1431.8 L1850.2 1431.8 L1853.1 1431.8 L1856.1 1431.8 L1859.0 1431.8 L1861.9 1431.8 L1864.9 1431.9 L1867.8 1431.9 L1870.8 1431.9 L1873.7 1431.9 L1876.6 1431.9 L1879.6 1431.9 L1882.5 1431.9 L1885.5 1431.9 L1888.4 1431.9 L1891.3 1431.9 L1894.3 1431.9 L1897.2 1431.9 L1900.2 1431.9 L1903.1 1431.9 L1906.1 1431.9 L1909.0 1431.9 L1911.9 1431.9 L1914.9 1431.9 L1917.8 1431.9 L1920.8 1431.9 L1923.7 1431.9 L1926.6 1432.0 L1929.6 1432.0 L1932.5 1432.0 L1935.5 1432.0 L1938.4 1432.0 L1941.4 1432.0 L1944.3 1432.0 L1947.2 1432.0 L1950.2 1432.0 L1953.1 1432.0 L1956.1 1432.0 L1959.0 1432.0 L1961.9 1432.0 L1964.9 1432.0 L1967.8 1432.0 L1970.8 1432.0 L1973.7 1432.0 L1976.6 1432.0 L1979.6 1432.0 L1982.5 1432.0 L1985.5 1432.0 L1988.4 1432.0 L1991.4 1432.0 L1994.3 1432.0 L1997.2 1432.0 L2000.2 1432.0 L2003.1 1432.0 L2006.1 1432.0 L2009.0 1432.0 L2011.9 1432.0 L2014.9 1432.0 L2017.8 1432.0 L2020.8 1432.0 L2023.7 1432.0 L2026.6 1432.0 L2029.6 1432.0 L2032.5 1432.0 L2035.5 1432.0 L2038.4 1432.0 L2041.4 1432.0 L2044.3 1432.0 L2047.2 1432.0 L2050.2 1432.0 L2053.1 1432.0 L2056.1 1432.0 L2059.0 1432.0" fill="none" stroke="#000" stroke-width="10.5" stroke-dasharray="0.01 41.7" stroke-dashoffset="-4.9" stroke-linecap="round" />
<path d="M297.2 274.5 L299.5 274.5 L301.8 274.5 L304.0 274.5 L306.3 274.5 L308.6 274.5 L310.9 274.5 L313.2 274.5 L315.4 274.5 L317.7 274.5 L320.0 274.5 L322.3 274.5 L324.6 274.5 L326.8 274.5 L329.1 274.6 L331.4 274.6 L333.7 274.6 L333.8 274.6 M343.5 274.6 L345.1 274.6 L347.3 274.6 L349.6 274.6 L351.9 274.6 L354.2 274.6 L356.5 274.6 L358.7 274.6 L361.0 274.6 L363.3 274.6 L365.6 274.6 L367.9 274.7 L370.1 274.7 L372.4 274.7 L374.7 274.7 L377.0 274.7 L379.3 274.7 L381.5 274.7 L383.8 274.7 L385.9 274.8 M395.6 274.8 L397.5 274.9 L399.8 274.9 L402.1 274.9 L404.3 274.9 L406.6 275.0 L408.9 275.0 L411.2 275.0 L413.5 275.0 L415.7 275.1 L418.0 275.1 L420.3 275.1 L422.6 275.2 L424.8 275.2 L427.1 275.3 L429.4 275.3 L431.7 275.4 L434.0 275.4 L436.2 275.5 L438.0 275.5 M447.7 275.8 L449.9 275.8 L452.2 275.9 L454.5 276.0 L456.8 276.1 L459.0 276.2 L461.3 276.3 L463.6 276.4 L465.9 276.5 L468.2 276.6 L470.4 276.7 L472.7 276.8 L475.0 276.9 L477.3 277.0 L479.6 277.2 L481.8 277.3 L484.1 277.5 L486.4 277.6 L488.7 277.8 L490.1 277.9 M499.8 278.7 L500.1 278.7 L502.4 278.9 L504.6 279.1 L506.9 279.4 L509.2 279.6 L511.5 279.9 L513.7 280.1 L516.0 280.4 L518.3 280.7 L520.6 281.0 L522.9 281.3 L525.1 281.6 L527.4 282.0 L529.7 282.3 L532.0 282.7 L534.3 283.1 L536.5 283.5 L538.8 283.9 L541.1 284.3 L542.0 284.5 M551.6 286.5 L552.5 286.7 L554.8 287.3 L557.1 287.8 L559.3 288.4 L561.6 289.0 L563.9 289.6 L566.2 290.3 L568.5 291.0 L570.7 291.7 L573.0 292.4 L575.3 293.1 L577.6 293.9 L579.9 294.7 L582.1 295.6 L584.4 296.4 L586.7 297.3 L589.0 298.3 L591.3 299.2 L593.1 300.0 M602.5 304.4 L602.6 304.5 L604.9 305.7 L607.2 306.9 L609.5 308.1 L611.8 309.4 L614.0 310.7 L616.3 312.1 L618.6 313.5 L620.9 314.9 L623.2 316.4 L625.4 317.9 L627.7 319.5 L630.0 321.1 L632.3 322.8 L634.6 324.5 L636.8 326.3 L639.1 328.1 L641.4 330.0 L641.6 330.2 M650.1 337.6 L650.5 338.0 L652.8 340.1 L655.1 342.3 L657.4 344.6 L659.6 346.9 L661.9 349.3 L664.2 351.7 L666.5 354.2 L668.8 356.7 L671.0 359.4 L673.3 362.0 L675.6 364.8 L677.9 367.6 L680.1 370.4 L682.4 373.4 L684.7 376.4 L684.8 376.5 M692.1 386.7 L693.8 389.1 L696.1 392.4 L698.4 395.9 L700.7 399.3 L702.9 402.9 L705.2 406.5 L707.5 410.2 L709.8 414.0 L712.1 417.9 L714.3 421.8 L716.6 425.8 L718.9 429.9 L721.2 434.0 L721.8 435.1 M728.0 447.0 L730.3 451.4 L732.6 455.9 L734.9 460.5 L737.1 465.2 L739.4 469.9 L741.7 474.8 L744.0 479.7 L746.3 484.7 L748.5 489.7 L750.8 494.8 L753.1 500.0 L753.6 501.1 M759.0 513.9 L759.9 516.1 L762.2 521.6 L764.5 527.2 L766.8 532.8 L769.0 538.5 L771.3 544.3 L773.6 550.2 L775.9 556.1 L778.2 562.1 L780.4 568.1 L781.6 571.3 M786.6 584.7 L787.3 586.7 L789.6 593.0 L791.8 599.4 L794.1 605.8 L796.4 612.3 L798.7 618.9 L801.0 625.5 L803.2 632.2 L805.5 638.9 L807.2 643.9 M811.8 657.6 L812.4 659.4 L814.6 666.3 L816.9 673.3 L819.2 680.3 L821.5 687.4 L823.8 694.5 L826.0 701.7 L828.3 708.9 L830.6 716.1 L831.2 718.0 M835.5 731.8 L837.4 738.0 L839.7 745.4 L842.0 752.8 L844.3 760.2 L846.5 767.6 L848.8 775.1 L851.1 782.6 L853.4 790.1 L854.2 792.7 M858.4 806.7 L860.2 812.7 L862.5 820.3 L864.8 827.8 L867.1 835.4 L869.3 843.0 L871.6 850.6 L873.9 858.2 L876.2 865.7 L876.8 867.8 M881.0 881.8 L883.0 888.5 L885.3 896.0 L887.6 903.6 L889.9 911.1 L892.1 918.6 L894.4 926.1 L896.7 933.6 L899.0 941.1 L899.5 942.9 M903.8 956.8 L905.8 963.3 L908.1 970.7 L910.4 978.0 L912.7 985.3 L914.9 992.5 L917.2 999.8 L919.5 1006.9 L921.8 1014.1 L922.8 1017.4 M927.3 1031.2 L928.6 1035.3 L930.9 1042.2 L933.2 1049.1 L935.4 1056.0 L937.7 1062.8 L940.0 1069.6 L942.3 1076.3 L944.6 1083.0 L946.8 1089.6 L947.3 1091.0 M952.1 1104.5 L953.7 1109.0 L956.0 1115.4 L958.2 1121.7 L960.5 1127.9 L962.8 1134.1 L965.1 1140.2 L967.4 1146.2 L969.6 1152.2 L971.9 1158.1 L973.8 1162.8 M979.0 1175.9 L981.0 1181.0 L983.3 1186.5 L985.6 1192.0 L987.9 1197.4 L990.2 1202.7 L992.4 1208.0 L994.7 1213.2 L997.0 1218.3 L999.3 1223.3 L1001.6 1228.3 L1003.1 1231.6 M1009.0 1244.0 L1010.7 1247.3 L1012.9 1251.9 L1015.2 1256.4 L1017.5 1260.9 L1019.8 1265.2 L1022.1 1268.9 L1024.3 1272.6 L1026.6 1276.2 L1028.9 1279.8 L1031.2 1283.3 L1033.5 1286.7 L1035.7 1290.1 L1038.0 1293.4 M1045.2 1303.7 L1047.1 1306.3 L1049.4 1309.4 L1051.7 1312.4 L1054.0 1315.3 L1056.3 1318.2 L1058.5 1321.1 L1060.8 1323.9 L1063.1 1326.6 L1065.4 1329.3 L1067.7 1332.0 L1069.9 1334.8 L1072.2 1337.6 L1074.5 1340.3 L1076.8 1343.0 L1078.7 1345.2 M1086.7 1354.0 L1088.2 1355.5 L1090.5 1357.8 L1092.7 1360.1 L1095.0 1362.3 L1097.3 1364.5 L1099.6 1366.6 L1101.8 1368.6 L1104.1 1370.6 L1106.4 1372.6 L1108.7 1374.5 L1111.0 1376.3 L1113.2 1378.2 L1115.5 1379.9 L1117.8 1381.6 L1120.1 1383.3 L1122.4 1384.9 L1124.0 1386.1 M1133.0 1391.9 L1133.8 1392.4 L1136.0 1393.7 L1138.3 1394.8 L1140.6 1395.9 L1142.9 1396.9 L1145.2 1398.0 L1147.4 1399.0 L1149.7 1400.0 L1152.0 1400.9 L1154.3 1401.9 L1156.6 1402.8 L1158.8 1403.7 L1161.1 1404.5 L1163.4 1405.4 L1165.7 1406.2 L1168.0 1407.0 L1170.2 1407.8 L1172.5 1408.5 L1174.0 1409.0 M1183.6 1411.4 L1183.9 1411.4 L1186.2 1411.9 L1188.5 1412.4 L1190.7 1412.8 L1193.0 1413.3 L1195.3 1413.7 L1197.6 1414.1 L1199.9 1414.6 L1202.1 1415.0 L1204.4 1415.4 L1206.7 1415.8 L1209.0 1416.2 L1211.3 1416.5 L1213.5 1416.9 L1215.8 1417.3 L1218.1 1417.6 L1220.4 1418.0 L1222.7 1418.3 L1224.9 1418.7 L1225.7 1418.8 M1235.4 1419.7 L1236.3 1419.8 L1238.6 1420.0 L1240.9 1420.1 L1243.2 1420.3 L1245.5 1420.5 L1247.7 1420.7 L1250.0 1420.8 L1252.3 1421.0 L1254.6 1421.2 L1256.9 1421.3 L1259.1 1421.5 L1261.4 1421.7 L1263.7 1421.8 L1266.0 1422.0 L1268.2 1422.1 L1270.5 1422.3 L1272.8 1422.4 L1275.1 1422.6 L1277.4 1422.7 L1277.8 1422.7 M1287.5 1423.3 L1288.8 1423.4 L1291.0 1423.5 L1293.3 1423.6 L1295.6 1423.6 L1297.9 1423.6 L1300.2 1423.7 L1302.4 1423.7 L1304.7 1423.8 L1307.0 1423.8 L1309.3 1423.9 L1311.6 1423.9 L1313.8 1424.0 L1316.1 1424.0 L1318.4 1424.0 L1320.7 1424.1 L1323.0 1424.1 L1325.2 1424.2 L1327.5 1424.2 L1329.8 1424.3 L1329.9 1424.3 M1339.6 1424.4 L1341.2 1424.5 L1343.5 1424.5 L1345.8 1424.5 L1348.0 1424.6 L1350.3 1424.6 L1352.6 1424.7 L1354.9 1424.7 L1357.1 1424.7 L1359.4 1424.8 L1361.7 1424.8 L1364.0 1424.9 L1366.3 1424.9 L1368.5 1424.9 L1370.8 1425.0 L1373.1 1425.0 L1375.4 1425.1 L1377.7 1425.1 L1379.9 1425.1 L1381.9 1425.2 M1391.6 1425.3 L1393.6 1425.4 L1395.9 1425.4 L1398.2 1425.4 L1400.5 1425.5 L1402.7 1425.5 L1405.0 1425.5 L1407.3 1425.5 L1409.6 1425.5 L1411.9 1425.5 L1414.1 1425.6 L1416.4 1425.6 L1418.7 1425.6 L1421.0 1425.6 L1423.3 1425.6 L1425.5 1425.6 L1427.8 1425.6 L1430.1 1425.7 L1432.4 1425.7 L1434.0 1425.7 M1443.7 1425.7 L1443.8 1425.7 L1446.0 1425.8 L1448.3 1425.8 L1450.6 1425.8 L1452.9 1425.8 L1455.2 1425.8 L1457.4 1425.8 L1459.7 1425.8 L1462.0 1425.9 L1464.3 1425.9 L1466.6 1425.9 L1468.8 1425.9 L1471.1 1425.9 L1473.4 1425.9 L1475.7 1425.9 L1478.0 1426.0 L1480.2 1426.0 L1482.5 1426.0 L1484.8 1426.0 L1486.1 1426.0 M1495.8 1426.1 L1496.2 1426.1 L1498.5 1426.1 L1500.8 1426.1 L1503.0 1426.1 L1505.3 1426.1 L1507.6 1426.1 L1509.9 1426.2 L1512.2 1426.2 L1514.4 1426.2 L1516.7 1426.2 L1519.0 1426.2 L1521.3 1426.2 L1523.5 1426.2 L1525.8 1426.3 L1528.1 1426.3 L1530.4 1426.3 L1532.7 1426.3 L1534.9 1426.3 L1537.2 1426.3 L1538.2 1426.3 M1547.9 1426.4 L1548.6 1426.4 L1550.9 1426.4 L1553.2 1426.4 L1555.5 1426.4 L1557.7 1426.4 L1560.0 1426.5 L1562.3 1426.5 L1564.6 1426.5 L1566.9 1426.5 L1569.1 1426.5 L1571.4 1426.5 L1573.7 1426.5 L1576.0 1426.5 L1578.3 1426.6 L1580.5 1426.6 L1582.8 1426.6 L1585.1 1426.6 L1587.4 1426.6 L1589.7 1426.6 L1590.3 1426.6 M1600.0 1426.7 L1601.0 1426.7 L1603.3 1426.7 L1605.6 1426.7 L1607.9 1426.7 L1610.2 1426.7 L1612.4 1426.7 L1614.7 1426.8 L1617.0 1426.8 L1619.3 1426.8 L1621.6 1426.8 L1623.8 1426.8 L1626.1 1426.8 L1628.4 1426.8 L1630.7 1426.8 L1633.0 1426.9 L1635.2 1426.9 L1637.5 1426.9 L1639.8 1426.9 L1642.1 1426.9 L1642.4 1426.9 M1652.1 1427.0 L1653.5 1427.0 L1655.8 1427.0 L1658.0 1427.0 L1660.3 1427.0 L1662.6 1427.3" fill="none" stroke="#000" stroke-width="6.2"/>
<path d="M297.2 274.6 L299.5 274.6 L301.8 274.6 L304.0 274.6 L306.3 274.6 L308.6 274.6 L310.9 274.6 L313.2 274.6 L315.4 274.6 L317.7 274.6 L320.0 274.6 L322.3 274.6 L324.6 274.6 L326.8 274.7 L329.1 274.7 L331.4 274.7 L333.7 274.7 L336.0 274.7 L338.2 274.7 L340.5 274.7 L342.8 274.7 L345.1 274.7 L347.3 274.7 L349.6 274.8 L351.9 274.8 L354.2 274.8 L356.5 274.8 L358.7 274.8 L361.0 274.8 L363.3 274.8 L365.6 274.9 L367.9 274.9 L370.1 274.9 L372.4 274.9 L374.7 274.9 L377.0 275.0 L379.3 275.0 L381.5 275.0 L383.8 275.0 L386.1 275.1 L388.4 275.1 L390.7 275.1 L392.9 275.2 L395.2 275.2 L397.5 275.2 L399.8 275.3 L402.1 275.3 L404.3 275.3 L406.6 275.4 L408.9 275.4 L411.2 275.5 L413.5 275.5 L415.7 275.5 L418.0 275.6 L420.3 275.6 L422.6 275.7 L424.8 275.8 L427.1 275.8 L429.4 275.9 L431.7 275.9 L434.0 276.0 L436.2 276.1 L438.5 276.1 L440.8 276.2 L443.1 276.3 L445.4 276.4 L447.6 276.5 L449.9 276.5 L452.2 276.6 L454.5 276.7 L456.8 276.8 L459.0 276.9 L461.3 277.0 L463.6 277.1 L465.9 277.3 L468.2 277.4 L470.4 277.5 L472.7 277.6 L475.0 277.8 L477.3 277.9 L479.6 278.1 L481.8 278.2 L484.1 278.4 L486.4 278.5 L488.7 278.7 L491.0 278.9 L493.2 279.0 L495.5 279.2 L497.8 279.4 L500.1 279.6 L502.4 279.8 L504.6 280.0 L506.9 280.3 L509.2 280.5 L511.5 280.7 L513.7 281.0 L516.0 281.2 L518.3 281.5 L520.6 281.8 L522.9 282.0 L525.1 282.3 L527.4 282.6 L529.7 283.0 L532.0 283.3 L534.3 283.6 L536.5 284.0 L538.8 284.3 L541.1 284.7 L543.4 285.1 L545.7 285.4 L547.9 285.9 L550.2 286.3 L552.5 286.7 L554.8 287.1 L557.1 287.6 L559.3 288.1 L561.6 288.6 L563.9 289.1 L566.2 289.6 L568.5 290.1 L570.7 290.7 L573.0 291.2 L575.3 291.8 L577.6 292.4 L579.9 293.1 L582.1 293.7 L584.4 294.3 L586.7 295.0 L589.0 295.7 L591.3 296.4 L593.5 297.2 L595.8 297.9 L598.1 298.7 L600.4 299.5 L602.6 300.3 L604.9 301.2 L607.2 302.0 L609.5 302.9 L611.8 303.8 L614.0 304.8 L616.3 305.8 L618.6 306.7 L620.9 307.8 L623.2 308.8 L625.4 309.9 L627.7 311.0 L630.0 312.1 L632.3 313.3 L634.6 314.4 L636.8 315.7 L639.1 316.9 L641.4 318.2 L643.7 319.5 L646.0 320.8 L648.2 322.2 L650.5 323.6 L652.8 325.0 L655.1 326.5 L657.4 328.0 L659.6 329.5 L661.9 331.1 L664.2 332.7 L666.5 334.3 L668.8 336.0 L671.0 337.7 L673.3 339.5 L675.6 341.3 L677.9 343.1 L680.1 345.0 L682.4 346.9 L684.7 348.9 L687.0 350.8 L689.3 352.9 L691.5 355.0 L693.8 357.1 L696.1 359.2 L698.4 361.4 L700.7 363.7 L702.9 366.0 L705.2 368.3 L707.5 370.7 L709.8 373.1 L712.1 375.6 L714.3 378.1 L716.6 380.6 L718.9 383.2 L721.2 385.9 L723.5 388.6 L725.7 391.3 L728.0 394.1 L730.3 397.0 L732.6 399.9 L734.9 402.8 L737.1 405.8 L739.4 408.8 L741.7 411.9 L744.0 415.1 L746.3 418.3 L748.5 421.5 L750.8 424.8 L753.1 428.1 L755.4 431.5 L757.7 435.0 L759.9 438.5 L762.2 442.0 L764.5 445.6 L766.8 449.2 L769.0 452.9 L771.3 456.7 L773.6 460.5 L775.9 464.3 L778.2 468.2 L780.4 472.2 L782.7 476.2 L785.0 480.3 L787.3 484.4 L789.6 488.5 L791.8 492.7 L794.1 497.0 L796.4 501.3 L798.7 505.7 L801.0 510.1 L803.2 514.5 L805.5 519.0 L807.8 523.6 L810.1 528.2 L812.4 532.8 L814.6 537.6 L816.9 542.3 L819.2 547.1 L821.5 551.9 L823.8 556.8 L826.0 561.8 L828.3 566.8 L830.6 571.8 L832.9 576.9 L835.2 582.0 L837.4 587.1 L839.7 592.3 L842.0 597.6 L844.3 602.9 L846.5 608.2 L848.8 613.6 L851.1 619.0 L853.4 624.4 L855.7 629.9 L857.9 635.4 L860.2 641.0 L862.5 646.6 L864.8 652.2 L867.1 657.9 L869.3 663.6 L871.6 669.3 L873.9 675.0 L876.2 680.8 L878.5 686.7 L880.7 692.5 L883.0 698.4 L885.3 704.3 L887.6 710.2 L889.9 716.2 L892.1 722.1 L894.4 728.1 L896.7 734.2 L899.0 740.2 L901.3 746.3 L903.5 752.4 L905.8 758.5 L908.1 764.6 L910.4 770.7 L912.7 776.9 L914.9 783.0 L917.2 789.2 L919.5 795.4 L921.8 801.6 L924.1 807.8 L926.3 814.0 L928.6 820.2 L930.9 826.4 L933.2 832.7 L935.4 838.9 L937.7 845.1 L940.0 851.4 L942.3 857.6 L944.6 863.8 L946.8 870.1 L949.1 876.3 L951.4 882.5 L953.7 888.7 L956.0 894.9 L958.2 901.1 L960.5 907.3 L962.8 913.5 L965.1 919.7 L967.4 925.8 L969.6 932.0 L971.9 938.1 L974.2 944.2 L976.5 950.3 L978.8 956.4 L981.0 962.4 L983.3 968.5 L985.6 974.5 L987.9 980.5 L990.2 986.5 L992.4 992.4 L994.7 998.3 L997.0 1004.2 L999.3 1010.1 L1001.6 1015.9 L1003.8 1021.7 L1006.1 1027.5 L1008.4 1033.3 L1010.7 1039.0 L1012.9 1044.7 L1015.2 1050.3 L1017.5 1055.9 L1019.8 1061.5 L1022.1 1067.1 L1024.3 1072.6 L1026.6 1078.1 L1028.9 1083.5 L1031.2 1088.9 L1033.5 1094.2 L1035.7 1099.6 L1038.0 1104.8 L1040.3 1110.1 L1042.6 1115.2 L1044.9 1120.4 L1047.1 1125.5 L1049.4 1130.5 L1051.7 1135.6 L1054.0 1140.5 L1056.3 1145.5 L1058.5 1150.3 L1060.8 1155.2 L1063.1 1159.9 L1065.4 1164.7 L1067.7 1169.4 L1069.9 1174.0 L1072.2 1178.6 L1074.5 1183.1 L1076.8 1187.6 L1079.1 1192.1 L1081.3 1196.5 L1083.6 1200.8 L1085.9 1205.1 L1088.2 1209.3 L1090.5 1213.5 L1092.7 1217.7 L1095.0 1221.8 L1097.3 1225.8 L1099.6 1229.8 L1101.8 1233.7 L1104.1 1237.6 L1106.4 1241.5 L1108.7 1245.2 L1111.0 1249.0 L1113.2 1252.7 L1115.5 1256.3 L1117.8 1259.9 L1120.1 1263.4 L1122.4 1266.9 L1124.6 1270.3 L1126.9 1273.7 L1129.2 1277.0 L1131.5 1280.3 L1133.8 1283.5 L1136.0 1286.7 L1138.3 1289.8 L1140.6 1292.8 L1142.9 1295.9 L1145.2 1298.8 L1147.4 1301.8 L1149.7 1304.6 L1152.0 1307.5 L1154.3 1310.3 L1156.6 1313.0 L1158.8 1315.7 L1161.1 1318.3 L1163.4 1320.9 L1165.7 1323.4 L1168.0 1325.9 L1170.2 1328.4 L1172.5 1330.8 L1174.8 1333.2 L1177.1 1335.5 L1179.4 1337.8 L1181.6 1340.0 L1183.9 1342.2 L1186.2 1344.3 L1188.5 1346.4 L1190.7 1348.5 L1193.0 1350.5 L1195.3 1352.5 L1197.6 1354.4 L1199.9 1356.3 L1202.1 1358.2 L1204.4 1360.0 L1206.7 1361.8 L1209.0 1363.5 L1211.3 1365.2 L1213.5 1366.9 L1215.8 1368.5 L1218.1 1370.1 L1220.4 1371.7 L1222.7 1373.2 L1224.9 1374.7 L1227.2 1376.2 L1229.5 1377.6 L1231.8 1379.0 L1234.1 1380.3 L1236.3 1381.7 L1238.6 1383.0 L1240.9 1384.2 L1243.2 1385.5 L1245.5 1386.7 L1247.7 1387.8 L1250.0 1389.0 L1252.3 1390.1 L1254.6 1391.2 L1256.9 1392.2 L1259.1 1393.3 L1261.4 1394.3 L1263.7 1395.3 L1266.0 1396.2 L1268.2 1397.2 L1270.5 1398.1 L1272.8 1399.0 L1275.1 1399.8 L1277.4 1400.7 L1279.6 1401.5 L1281.9 1402.3 L1284.2 1403.0 L1286.5 1403.8 L1288.8 1404.5 L1291.0 1405.2 L1293.3 1405.9 L1295.6 1406.6 L1297.9 1407.2 L1300.2 1407.9 L1302.4 1408.5 L1304.7 1409.1 L1307.0 1409.7 L1309.3 1410.2 L1311.6 1410.8 L1313.8 1411.3 L1316.1 1411.8 L1318.4 1412.3 L1320.7 1412.8 L1323.0 1413.3 L1325.2 1413.7 L1327.5 1414.2 L1329.8 1414.6 L1332.1 1415.0 L1334.4 1415.4 L1336.6 1415.8 L1338.9 1416.2 L1341.2 1416.5 L1343.5 1416.9 L1345.8 1417.2 L1348.0 1417.5 L1350.3 1417.9 L1352.6 1418.2 L1354.9 1418.5 L1357.1 1418.8 L1359.4 1419.0 L1361.7 1419.3 L1364.0 1419.6 L1366.3 1419.8 L1368.5 1420.1 L1370.8 1420.3 L1373.1 1420.5 L1375.4 1420.7 L1377.7 1421.0 L1379.9 1421.2 L1382.2 1421.4 L1384.5 1421.6 L1386.8 1421.7 L1389.1 1421.9 L1391.3 1422.1 L1393.6 1422.2 L1395.9 1422.4 L1398.2 1422.6 L1400.5 1422.7 L1402.7 1422.9 L1405.0 1423.0 L1407.3 1423.1 L1409.6 1423.2 L1411.9 1423.4 L1414.1 1423.5 L1416.4 1423.6 L1418.7 1423.7 L1421.0 1423.8 L1423.3 1423.9 L1425.5 1424.0 L1427.8 1424.1 L1430.1 1424.2 L1432.4 1424.3 L1434.6 1424.4 L1436.9 1424.4 L1439.2 1424.5 L1441.5 1424.6 L1443.8 1424.7 L1446.0 1424.7 L1448.3 1424.8 L1450.6 1424.9 L1452.9 1424.9 L1455.2 1425.0 L1457.4 1425.0 L1459.7 1425.1 L1462.0 1425.1 L1464.3 1425.2 L1466.6 1425.2 L1468.8 1425.3 L1471.1 1425.3 L1473.4 1425.4 L1475.7 1425.4 L1478.0 1425.4 L1480.2 1425.5 L1482.5 1425.5 L1484.8 1425.5 L1487.1 1425.6 L1489.4 1425.6 L1491.6 1425.6 L1493.9 1425.7 L1496.2 1425.7 L1498.5 1425.7 L1500.8 1425.7 L1503.0 1425.8 L1505.3 1425.8 L1507.6 1425.8 L1509.9 1425.8 L1512.2 1425.8 L1514.4 1425.9 L1516.7 1425.9 L1519.0 1425.9 L1521.3 1425.9 L1523.5 1425.9 L1525.8 1425.9 L1528.1 1425.9 L1530.4 1426.0 L1532.7 1426.0 L1534.9 1426.0 L1537.2 1426.0 L1539.5 1426.0 L1541.8 1426.0 L1544.1 1426.0 L1546.3 1426.0 L1548.6 1426.0 L1550.9 1426.1 L1553.2 1426.1 L1555.5 1426.1 L1557.7 1426.1 L1560.0 1426.1 L1562.3 1426.1 L1564.6 1426.1 L1566.9 1426.1 L1569.1 1426.1 L1571.4 1426.1 L1573.7 1426.1 L1576.0 1426.1 L1578.3 1426.1 L1580.5 1426.1 L1582.8 1426.1 L1585.1 1426.1 L1587.4 1426.1 L1589.7 1426.1 L1591.9 1426.2 L1594.2 1426.2 L1596.5 1426.2 L1598.8 1426.2 L1601.0 1426.2 L1603.3 1426.2 L1605.6 1426.2 L1607.9 1426.2 L1610.2 1426.2 L1612.4 1426.2 L1614.7 1426.2 L1617.0 1426.2 L1619.3 1426.2 L1621.6 1426.2 L1623.8 1426.2 L1626.1 1426.2 L1628.4 1426.2 L1630.7 1426.2 L1633.0 1426.2 L1635.2 1426.2 L1637.5 1426.2 L1639.8 1426.2 L1642.1 1426.2 L1644.4 1426.2 L1646.6 1426.2 L1648.9 1426.2 L1651.2 1426.2 L1653.5 1426.2 L1655.8 1426.2 L1658.0 1426.2 L1660.3 1426.2 L1662.6 1426.2" fill="none" stroke="#000" stroke-width="8" stroke-dasharray="15 9" stroke-dashoffset="-9.3" stroke-linecap="butt" />
</g>
<g id="axes" stroke="#1c1c1c" fill="none">
<path d="M297.2 39 V1435" stroke-width="6"/>
<path d="M294.2 1432 H2062" stroke-width="6"/>
<path d="M2059 385 V1435" stroke-width="6"/>
<path d="M294.2 41.7 H955" stroke-width="6"/>
<path d="M297 1200.5 H316" stroke-width="6"/>
<path d="M297 969.0 H316" stroke-width="6"/>
<path d="M297 737.5 H316" stroke-width="6"/>
<path d="M297 506.0 H316" stroke-width="6"/>
<path d="M297 274.5 H316" stroke-width="6"/>
<path d="M2040 1200.5 H2059" stroke-width="6"/>
<path d="M2040 969.0 H2059" stroke-width="6"/>
<path d="M2040 737.5 H2059" stroke-width="6"/>
<path d="M2040 506.0 H2059" stroke-width="6"/>
<path d="M737.6 1413 V1432" stroke-width="6"/>
<path d="M1178.1 1413 V1432" stroke-width="6"/>
<path d="M1618.5 1413 V1432" stroke-width="6"/>
<path d="M737.6 42 V61" stroke-width="6"/>
</g>
<g id="markers">
<path d="M270 274 L277 266 L277.5 248 L290 245 L294.5 232 L301 219 L310 236 L318 242 L326.7 232.5 L338 250 L348 251 L358 238.7 L368 254 L380 257 L390 244.3 L400 262 L420 267 L437 262 L451.7 248.8 L464 270 L483 303 L462 304.5 L452 311 L439 313 L425 309.5 L386 306.5 L343 302.6 L318 297.5 L278 289 L276.5 280 Z" fill="#000" stroke="#000" stroke-width="2" stroke-linejoin="round"/>
<path d="M301.0 223.5 L326.5 268.5 L275.5 268.5 Z" fill="none" stroke="#000" stroke-width="5" stroke-linejoin="miter"/>
<path d="M326.7 237.0 L352.2 282.0 L301.2 282.0 Z" fill="none" stroke="#000" stroke-width="5" stroke-linejoin="miter"/>
<path d="M358.0 243.2 L383.5 288.2 L332.5 288.2 Z" fill="none" stroke="#000" stroke-width="5" stroke-linejoin="miter"/>
<path d="M390.0 248.8 L415.5 293.8 L364.5 293.8 Z" fill="none" stroke="#000" stroke-width="5" stroke-linejoin="miter"/>
<path d="M451.7 253.3 L477.2 298.3 L426.2 298.3 Z" fill="none" stroke="#000" stroke-width="5" stroke-linejoin="miter"/>
<path d="M607.3 271.1 L632.8 316.1 L581.8 316.1 Z" fill="none" stroke="#000" stroke-width="5" stroke-linejoin="miter"/>
<path d="M763.5 301.3 L789.0 346.3 L738.0 346.3 Z" fill="none" stroke="#000" stroke-width="5" stroke-linejoin="miter"/>
<path d="M895.0 358.8 L920.5 403.8 L869.5 403.8 Z" fill="none" stroke="#000" stroke-width="5" stroke-linejoin="miter"/>
<path d="M1028.3 462.6 L1053.8 507.6 L1002.8 507.6 Z" fill="none" stroke="#000" stroke-width="5" stroke-linejoin="miter"/>
<path d="M1161.9 641.4 L1187.4 686.4 L1136.4 686.4 Z" fill="none" stroke="#000" stroke-width="5" stroke-linejoin="miter"/>
<path d="M1381.2 983.0 L1406.7 1028.0 L1355.7 1028.0 Z" fill="none" stroke="#000" stroke-width="5" stroke-linejoin="miter"/>
<path d="M1583.7 1236.1 L1609.2 1281.1 L1558.2 1281.1 Z" fill="none" stroke="#000" stroke-width="5" stroke-linejoin="miter"/>
<circle cx="438.8" cy="288.0" r="23" fill="none" stroke="#000" stroke-width="5"/>
<circle cx="578.0" cy="296.7" r="23" fill="none" stroke="#000" stroke-width="5"/>
<circle cx="722.4" cy="316.3" r="23" fill="none" stroke="#000" stroke-width="5"/>
<circle cx="920.7" cy="433.5" r="23" fill="none" stroke="#000" stroke-width="5"/>
<circle cx="1062.8" cy="582.5" r="23" fill="none" stroke="#000" stroke-width="5"/>
<circle cx="1234.7" cy="819.6" r="23" fill="none" stroke="#000" stroke-width="5"/>
<circle cx="1433.7" cy="1108.0" r="23" fill="none" stroke="#000" stroke-width="5"/>
<circle cx="1718.4" cy="1355.3" r="23" fill="none" stroke="#000" stroke-width="5"/>
<rect x="493.5" y="279.1" width="38.5" height="38.5" fill="none" stroke="#000" stroke-width="4.8"/>
<rect x="601.4" y="298.8" width="38.5" height="38.5" fill="none" stroke="#000" stroke-width="4.8"/>
<rect x="710.8" y="354.1" width="38.5" height="38.5" fill="none" stroke="#000" stroke-width="4.8"/>
<rect x="832.5" y="504.6" width="38.5" height="38.5" fill="none" stroke="#000" stroke-width="4.8"/>
<rect x="926.4" y="663.5" width="38.5" height="38.5" fill="none" stroke="#000" stroke-width="4.8"/>
<rect x="1014.8" y="836.2" width="38.5" height="38.5" fill="none" stroke="#000" stroke-width="4.8"/>
<rect x="1110.5" y="1025.0" width="38.5" height="38.5" fill="none" stroke="#000" stroke-width="4.8"/>
<rect x="1256.8" y="1248.0" width="38.5" height="38.5" fill="none" stroke="#000" stroke-width="4.8"/>
<circle cx="726.5" cy="452.0" r="24.3" fill="none" stroke="#000" stroke-width="9.5"/>
<circle cx="808.4" cy="647.9" r="24.3" fill="none" stroke="#000" stroke-width="9.5"/>
<circle cx="891.9" cy="917.4" r="24.3" fill="none" stroke="#000" stroke-width="9.5"/>
<circle cx="978.5" cy="1168.2" r="24.3" fill="none" stroke="#000" stroke-width="9.5"/>
<circle cx="1085.3" cy="1349.6" r="24.3" fill="none" stroke="#000" stroke-width="9.5"/>
<circle cx="1256.9" cy="1413.3" r="24.3" fill="none" stroke="#000" stroke-width="9.5"/>
<rect x="656.0" y="331.0" width="24" height="24" fill="#000"/>
<rect x="767.8" y="457.8" width="24.5" height="24.5" fill="#000"/>
<rect x="824.7" y="570.1" width="24" height="24" fill="#000"/>
<rect x="870.9" y="696.5" width="24" height="24" fill="#000"/>
<rect x="913.0" y="794.5" width="24" height="24" fill="#000"/>
<rect x="984.3" y="978.7" width="27" height="27" fill="#000"/>
<rect x="1067.7" y="1191.6" width="24" height="24" fill="#000"/>
<rect x="1166.4" y="1334.1" width="24" height="24" fill="#000"/>
<rect x="1314.8" y="1404.3" width="24" height="24" fill="#000"/>
<ellipse cx="302" cy="238" rx="1.66" ry="3.84" transform="rotate(10 302 238)" fill="#eee"/>
<ellipse cx="308.5" cy="261" rx="1.66" ry="4.16" transform="rotate(25 308.5 261)" fill="#eee"/>
<ellipse cx="291.5" cy="258.5" rx="1.53" ry="3.84" transform="rotate(5 291.5 258.5)" fill="#eee"/>
<ellipse cx="354.7" cy="268.4" rx="1.79" ry="2.56" transform="rotate(0 354.7 268.4)" fill="#eee"/>
<ellipse cx="366.5" cy="269" rx="1.79" ry="2.56" transform="rotate(0 366.5 269)" fill="#eee"/>
<ellipse cx="375" cy="255.5" rx="3.84" ry="1.66" transform="rotate(12 375 255.5)" fill="#eee"/>
<ellipse cx="409.6" cy="270" rx="2.94" ry="1.41" transform="rotate(0 409.6 270)" fill="#eee"/>
<ellipse cx="434.5" cy="268.4" rx="3.84" ry="1.79" transform="rotate(-8 434.5 268.4)" fill="#eee"/>
<ellipse cx="451" cy="271" rx="3.2" ry="1.92" transform="rotate(15 451 271)" fill="#eee"/>
<ellipse cx="400" cy="293" rx="7.04" ry="2.11" transform="rotate(4 400 293)" fill="#eee"/>
<ellipse cx="444.5" cy="294" rx="8.31" ry="2.43" transform="rotate(-3 444.5 294)" fill="#eee"/>
<ellipse cx="469" cy="296.5" rx="2.88" ry="1.66" transform="rotate(0 469 296.5)" fill="#eee"/>
<ellipse cx="376" cy="286" rx="1.28" ry="2.56" transform="rotate(0 376 286)" fill="#eee"/>
<ellipse cx="313" cy="266" rx="1.15" ry="2.05" transform="rotate(0 313 266)" fill="#eee"/>
<ellipse cx="392" cy="268" rx="1.15" ry="1.15" transform="rotate(0 392 268)" fill="#eee"/>
</g>
<g id="ticklabels">
<text x="273.8" y="1463.0" font-size="84" text-anchor="end" >0</text>
<text x="273.8" y="1231.5" font-size="84" text-anchor="end" >0.2</text>
<text x="273.8" y="1000.0" font-size="84" text-anchor="end" >0.4</text>
<text x="273.8" y="768.5" font-size="84" text-anchor="end" >0.6</text>
<text x="273.8" y="537.0" font-size="84" text-anchor="end" >0.8</text>
<text x="273.8" y="305.5" font-size="84" text-anchor="end" >1</text>
<text x="297.2" y="1533.3" font-size="84" text-anchor="middle" >0</text>
<text x="737.6" y="1533.3" font-size="84" text-anchor="middle" >5</text>
<text x="1178.1" y="1533.3" font-size="84" text-anchor="middle" >10</text>
<text x="1618.5" y="1533.3" font-size="84" text-anchor="middle" >15</text>
<text x="2059.0" y="1533.3" font-size="84" text-anchor="middle" >20</text>
</g>
<g id="axlabels" font-style="italic">
<text y="1644.8" font-size="103"><tspan x="1075">i</tspan><tspan x="1098.6">/</tspan><tspan x="1130.5" textLength="66" lengthAdjust="spacingAndGlyphs">C</tspan><tspan x="1197.3" dy="30.7" font-size="78" textLength="62" lengthAdjust="spacingAndGlyphs">m</tspan></text>
<text transform="translate(97.8 0) rotate(-90)" y="0" font-size="108"><tspan x="-862.6" textLength="66.7" lengthAdjust="spacingAndGlyphs">C</tspan><tspan x="-792.4">/</tspan><tspan x="-760.6" textLength="66" lengthAdjust="spacingAndGlyphs">C</tspan><tspan x="-693.2" dy="27.8" font-size="78" textLength="61.1" lengthAdjust="spacingAndGlyphs">m</tspan></text>
</g>
</g>
<rect x="0" y="0" width="22.8" height="1710" fill="#fff"/>
<rect x="2102" y="0" width="40" height="1710" fill="#fff"/>
<rect x="0" y="1676" width="2141" height="40" fill="#fff"/>
</svg></body></html>
